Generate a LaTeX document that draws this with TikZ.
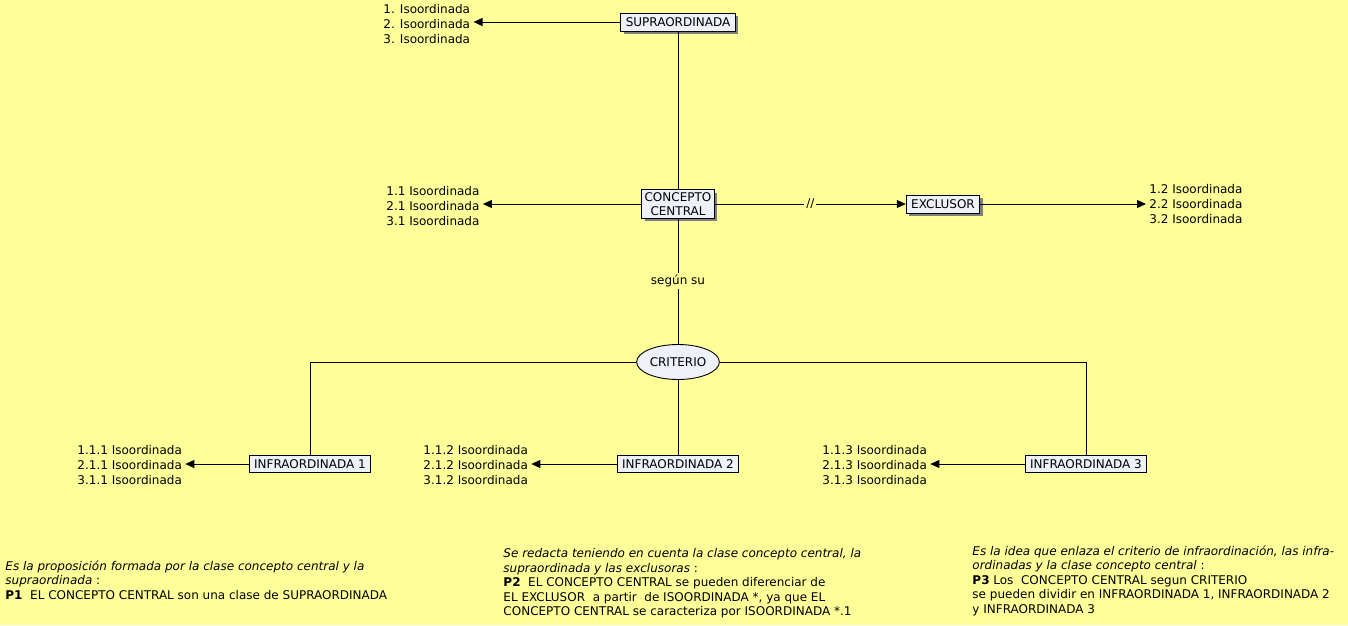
\documentclass[tikz,border=0pt]{standalone}
\usepackage{fontspec}
\setmainfont{DejaVu Sans}
\usetikzlibrary{positioning, arrows.meta, shadows, shapes.geometric}

\definecolor{mapbg}{HTML}{FFFF99}
\definecolor{boxfill}{HTML}{EEF2F8}

\begin{document}
\begin{tikzpicture}[x=1pt, y=-1pt, line width=0.9pt,
	font=\fontsize{12}{14.6}\selectfont,
	concept/.style={draw, fill=boxfill, inner xsep=5pt, inner ysep=2pt, minimum height=18pt, align=center},
	shadowed/.style={concept, drop shadow={shadow xshift=3pt, shadow yshift=-3pt, fill=black!50, opacity=1}},
	isolist/.style={align=left, anchor=west, inner sep=3pt},
	note/.style={align=left, anchor=north west, inner sep=0pt},
	link/.style={-{Triangle[length=9pt, width=8pt]}},
	gap/.style={fill=mapbg, inner sep=2pt},
]
	% ---- page ----
	\fill[mapbg] (0,0) rectangle (1348,625);
	\useasboundingbox (0,0) rectangle (1348,625);

	% ---- classes ----
	\node[shadowed] (sup) at (678,22) {SUPRAORDINADA};
	\node[shadowed, inner xsep=3pt, inner ysep=2.5pt] (cen) at (678,204) {CONCEPTO\\CENTRAL};
	\node[shadowed] (exc) at (943,204) {EXCLUSOR};
	\node[draw, ellipse, fill=boxfill, minimum width=78pt, minimum height=35pt, inner sep=1pt] (crit) at (678,362) {CRITERIO};
	\node[concept, minimum height=17pt] (inf1) at (310,464) {INFRAORDINADA 1};
	\node[concept, minimum height=17pt] (inf2) at (678,464) {INFRAORDINADA 2};
	\node[concept, minimum height=17pt] (inf3) at (1086,464) {INFRAORDINADA 3};

	% ---- isoordinadas ----
	\node[isolist] (isosup) at (380,24) {1. Isoordinada\\2. Isoordinada\\3. Isoordinada};
	\node[isolist] (isocen) at (383,206) {1.1 Isoordinada\\2.1 Isoordinada\\3.1 Isoordinada};
	\node[isolist] (isoexc) at (1146,204) {1.2 Isoordinada\\2.2 Isoordinada\\3.2 Isoordinada};
	\node[isolist] (isoinf1) at (74,465) {1.1.1 Isoordinada\\2.1.1 Isoordinada\\3.1.1 Isoordinada};
	\node[isolist] (isoinf2) at (420,465) {1.1.2 Isoordinada\\2.1.2 Isoordinada\\3.1.2 Isoordinada};
	\node[isolist] (isoinf3) at (819,465) {1.1.3 Isoordinada\\2.1.3 Isoordinada\\3.1.3 Isoordinada};

	% ---- connectors ----
	\draw (sup) -- (cen);
	\draw[link] (sup.west) -- (sup.west -| isosup.east);
	\draw[link] (cen.west) -- (cen.west -| isocen.east);
	\draw[link] (cen.east) -- node[gap] {//} (exc.west);
	\draw[link] (exc.east) -- (exc.east -| isoexc.west);
	\draw (cen) -- node[gap] {según su} (crit);
	\draw (crit.west) -| (inf1.north);
	\draw (crit.east) -| (inf3.north);
	\draw (crit) -- (inf2);
	\draw[link] (inf1.west) -- (inf1.west -| isoinf1.east);
	\draw[link] (inf2.west) -- (inf2.west -| isoinf2.east);
	\draw[link] (inf3.west) -- (inf3.west -| isoinf3.east);

	% ---- propositions ----
	\node[note] (p1) at (5,560) {\itshape Es la proposición formada por la clase concepto central y la\\
		\itshape supraordinada\upshape\ :\\
		\textbf{P1}\ \ EL CONCEPTO CENTRAL son una clase de SUPRAORDINADA};
	\node[note] (p2) at (503,548) {\itshape Se redacta teniendo en cuenta la clase concepto central, la\\
		\itshape supraordinada y las exclusoras\upshape\ :\\
		\textbf{P2}\ \ EL CONCEPTO CENTRAL se pueden diferenciar de\\
		EL EXCLUSOR\ \ a partir\ \ de ISOORDINADA *, ya que EL\\
		CONCEPTO CENTRAL se caracteriza por ISOORDINADA *.1};
	\node[note] (p3) at (972,545) {\itshape Es la idea que enlaza el criterio de infraordinación, las infra-\\
		\itshape ordinadas y la clase concepto central\upshape\ :\\
		\textbf{P3} Los\ \ CONCEPTO CENTRAL segun CRITERIO\\
		se pueden dividir en INFRAORDINADA 1, INFRAORDINADA 2\\
		y INFRAORDINADA 3};
\end{tikzpicture}
\end{document}
